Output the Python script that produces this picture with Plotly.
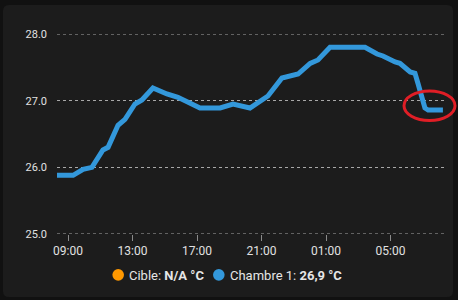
import plotly.graph_objects as go

times = [
    "2024-01-01 08:19", "2024-01-01 09:19", "2024-01-01 09:56", "2024-01-01 10:29",
    "2024-01-01 11:10", "2024-01-01 11:29", "2024-01-01 12:06", "2024-01-01 12:32",
    "2024-01-01 13:09", "2024-01-01 13:35", "2024-01-01 14:16", "2024-01-01 15:08",
    "2024-01-01 15:49", "2024-01-01 16:26", "2024-01-01 17:11", "2024-01-01 18:26",
    "2024-01-01 19:14", "2024-01-01 20:17", "2024-01-01 21:02", "2024-01-01 21:24",
    "2024-01-01 22:16", "2024-01-01 23:16", "2024-01-02 00:01", "2024-01-02 00:30",
    "2024-01-02 01:15", "2024-01-02 03:25", "2024-01-02 04:10", "2024-01-02 04:32",
    "2024-01-02 05:17", "2024-01-02 05:35", "2024-01-02 06:13", "2024-01-02 06:31",
    "2024-01-02 06:42", "2024-01-02 07:08", "2024-01-02 07:20", "2024-01-02 08:15",
]
chambre1 = [
    25.88, 25.88, 25.97, 26.00, 26.26, 26.30, 26.63, 26.72,
    26.95, 27.01, 27.19, 27.10, 27.05, 26.98, 26.89, 26.89,
    26.95, 26.89, 27.02, 27.07, 27.34, 27.40, 27.56, 27.61,
    27.80, 27.80, 27.70, 27.67, 27.58, 27.56, 27.43, 27.41,
    27.26, 26.89, 26.86, 26.86,
]
y_ticks = [25.0, 26.0, 27.0, 28.0]
y_range = [25.0, 28.0]
x_range = ["2024-01-01 08:19", "2024-01-02 08:19"]
legend_labels = ["Cible: <b>N/A °C</b>", "Chambre 1: <b>26,9 °C</b>"]
legend_colors = ["#ff9800", "#3398db"]

W, H = 458, 300
L, R, T, B = 57, 444, 34, 234  # plot area pixels
GRID = "#a8a8a8"


def px(x):
    return (x - L) / (R - L)


def py(y):
    return (B - y) / (B - T)


fig = go.Figure()
fig.add_trace(go.Scatter(
    x=times, y=chambre1, mode="lines",
    line=dict(color=legend_colors[1], width=5),
    showlegend=False, hoverinfo="skip",
))

# card background with rounded corners
cx0, cx1, cy0, cy1 = px(3), px(453), py(5), py(297)
rx, ry = 6 / (R - L), 6 / (B - T)
card_path = (
    f"M {cx0+rx},{cy0} L {cx1-rx},{cy0} Q {cx1},{cy0} {cx1},{cy0-ry} "
    f"L {cx1},{cy1+ry} Q {cx1},{cy1} {cx1-rx},{cy1} "
    f"L {cx0+rx},{cy1} Q {cx0},{cy1} {cx0},{cy1+ry} "
    f"L {cx0},{cy0-ry} Q {cx0},{cy0} {cx0+rx},{cy0} Z"
)
shapes = [
    dict(type="path", path=card_path, xref="paper", yref="paper",
         fillcolor="#1c1c1c", line=dict(width=0), layer="below"),
]
# grid lines at the ends of the range (plotly drops them at the edges)
for v in (y_range[0], y_range[1]):
    shapes.append(dict(type="line", xref="paper", yref="y", x0=0, x1=1, y0=v, y1=v,
                       line=dict(color=GRID, width=1, dash="dot"), layer="below"))
# red hand-drawn ellipse
shapes.append(dict(type="circle", xref="paper", yref="paper",
                   x0=px(404), x1=px(455), y0=py(120.5), y1=py(91),
                   line=dict(color="#e01e26", width=3), layer="above"))
annotations = []
circle_x = [118.2, 218.8]
text_x = [127.3, 228.3]
for lab, col, cxp, txp in zip(legend_labels, legend_colors, circle_x, text_x):
    shapes.append(dict(type="circle", xref="paper", yref="paper",
                       x0=px(cxp - 5.8), x1=px(cxp + 5.8),
                       y0=py(280.7), y1=py(269),
                       fillcolor=col, line=dict(width=0), layer="above"))
    annotations.append(dict(text=lab, xref="paper", yref="paper",
                            x=px(txp), y=py(275), xanchor="left", yanchor="middle",
                            showarrow=False,
                            font=dict(family="Roboto", size=13, color="#e6e6e6")))

fig.update_layout(
    width=W, height=H,
    margin=dict(l=L, r=W - R, t=T, b=H - B, pad=0),
    paper_bgcolor="#111111",
    plot_bgcolor="rgba(0,0,0,0)",
    shapes=shapes,
    annotations=annotations,
    showlegend=False,
    font=dict(family="Roboto", color="#e1e1e1"),
)
fig.update_xaxes(
    type="date", range=x_range,
    tick0="2024-01-01 09:00", dtick=4 * 3600 * 1000, tickformat="%H:%M",
    showgrid=False, zeroline=False, showline=False,
    ticks="outside", ticklen=6, tickcolor="#8a8a8a", tickwidth=1,
    tickfont=dict(family="Roboto", size=12, color="#e1e1e1"),
)
fig.update_yaxes(
    range=y_range, tickvals=y_ticks, ticktext=[f"{v:.1f}" for v in y_ticks],
    showgrid=True, gridcolor=GRID, gridwidth=1, griddash="dot",
    zeroline=False, showline=False, ticks="", ticklabelstandoff=9,
    tickfont=dict(family="Roboto", size=11, color="#e1e1e1"),
)

fig.write_html("out.html")
